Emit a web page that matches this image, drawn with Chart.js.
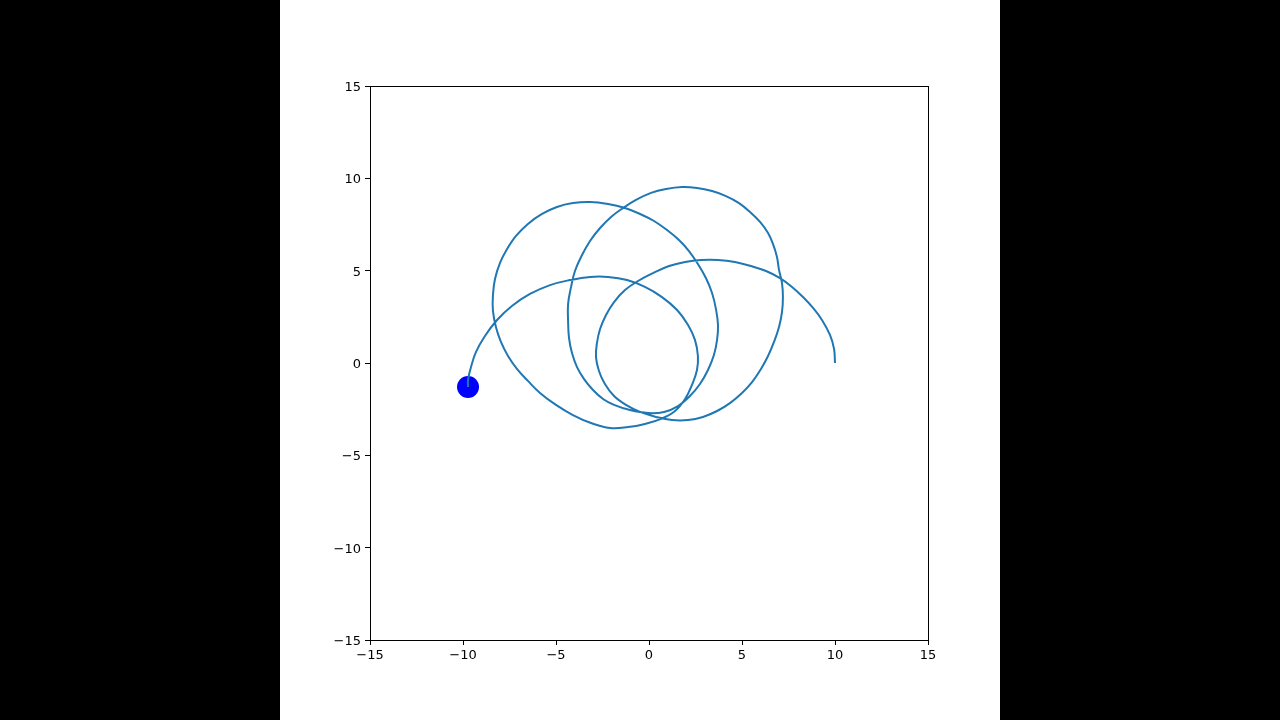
<!DOCTYPE html>
<html>
<head>
<meta charset="utf-8">
<script src="https://cdn.jsdelivr.net/npm/chart.js@4.4.1/dist/chart.umd.min.js"></script>
<style>
  html, body { margin: 0; padding: 0; background: #000; width: 1280px; height: 720px; overflow: hidden; }
  #panel { position: absolute; left: 280px; top: 0; width: 720px; height: 720px; background: #fff; }
  #c { position: absolute; left: 0; top: 0; }
</style>
</head>
<body>
<div id="panel"><canvas id="c" width="720" height="720"></canvas></div>
<script>
// Trajectory (data units), in drawing order
const pathX = [
  10.00, 9.95, 9.73, 9.30, 8.82, 8.28, 7.69, 7.04, 6.29, 5.48, 4.62, 3.71, 2.80, 1.94, 1.08, 0.22, -0.59, -1.29, -1.88, -2.31, -2.63, -2.80, -2.85, -2.69, -2.37, -1.88, -1.24, -0.48, 0.38, 1.24,
  2.10, 2.90, 3.66, 4.35, 5.00, 5.54, 6.02, 6.40, 6.72, 6.99, 7.15, 7.20, 7.15, 6.99, 6.88, 6.67, 6.40, 5.97, 5.43, 4.84, 4.14, 3.39, 2.58, 1.77, 0.91, 0.11, -0.70, -1.40,
  -2.04, -2.63, -3.17, -3.60, -3.98, -4.19, -4.35, -4.35, -4.30, -4.14, -3.87, -3.49, -3.01, -2.47, -1.88, -1.02, -0.05, 0.81, 1.56,
  2.20, 2.74, 3.17, 3.49, 3.66, 3.71,
  3.60, 3.39, 3.06, 2.63, 2.15, 1.61, 0.97, 0.27, -0.48, -1.29, -2.20,
  -3.17, -4.09, -4.95, -5.75, -6.51, -7.15, -7.63, -8.01, -8.28, -8.39, -8.39, -8.23, -7.96, -7.58, -7.10, -6.51, -5.86, -5.00, -4.09, -3.12, -2.10, -1.13,
  -0.22, 0.65, 1.40, 1.94, 2.31, 2.58, 2.63, 2.47, 2.10, 1.51, 0.70, -0.22, -1.18, -2.20, -3.17, -4.25, -5.32, -6.40, -7.37, -8.17, -8.82, -9.30, -9.57, -9.73, -9.73];
const pathY = [
  0.00, 0.76, 1.52, 2.33, 2.98, 3.57, 4.12, 4.60, 4.98, 5.25, 5.47, 5.58, 5.58, 5.47, 5.25, 4.87, 4.44, 3.95, 3.30, 2.60, 1.84, 1.08, 0.32, -0.43, -1.14, -1.79, -2.27, -2.65, -2.92, -3.09,
  -3.09, -2.92, -2.60, -2.17, -1.62, -1.03, -0.32, 0.38, 1.14, 1.95, 2.76, 3.57, 4.33, 5.04, 5.74, 6.44, 7.04, 7.64, 8.18, 8.66, 9.04, 9.31, 9.48, 9.53, 9.42, 9.21, 8.83, 8.39,
  7.91, 7.31, 6.61, 5.85, 4.98, 4.12, 3.19, 2.27, 1.35, 0.54, -0.22, -0.87, -1.46, -1.95, -2.27, -2.55, -2.71, -2.65, -2.33,
  -1.79, -1.14, -0.38, 0.43, 1.25, 2.06,
  2.92, 3.79, 4.60, 5.36, 6.06, 6.66, 7.20, 7.69, 8.07, 8.39, 8.61,
  8.72, 8.66, 8.45, 8.07, 7.53, 6.88, 6.17, 5.42, 4.55, 3.68, 2.82, 1.95, 1.14, 0.38, -0.32, -0.97, -1.62, -2.27, -2.82, -3.25, -3.52, -3.47,
  -3.30, -3.03, -2.60, -1.95, -1.19, -0.38, 0.38, 1.25, 2.06, 2.87, 3.57, 4.12, 4.49, 4.66, 4.66, 4.49, 4.22, 3.74, 3.09, 2.33, 1.46, 0.60, -0.22, -0.92, -1.30];
const xTicks = [-15, -10, -5, 0, 5, 10, 15];
const yTicks = [-15, -10, -5, 0, 5, 10, 15];
const axisMin = -15, axisMax = 15;

const pathData = pathX.map((x, i) => ({ x: x, y: pathY[i] }));
const endPoint = [{ x: pathX[pathX.length - 1], y: pathY[pathY.length - 1] }];

const fmt = v => String(v).replace('-', '\u2212');

const framePlugin = {
  id: 'frame',
  afterDraw(chart) {
    const a = chart.chartArea, ctx = chart.ctx;
    ctx.save();
    ctx.strokeStyle = '#000';
    ctx.lineWidth = 1;
    ctx.strokeRect(Math.round(a.left) + 0.5, Math.round(a.top) + 0.5, Math.round(a.right - a.left), Math.round(a.bottom - a.top));
    ctx.restore();
  }
};

const tickFont = { family: 'DejaVu Sans', size: 13 };

new Chart(document.getElementById('c'), {
  type: 'scatter',
  data: {
    datasets: [
      {
        data: pathData,
        showLine: true,
        borderColor: '#1f77b4',
        borderWidth: 2,
        pointRadius: 0,
        tension: 0.4,
        fill: false,
        order: 0
      },
      {
        data: endPoint,
        pointRadius: 11,
        pointBackgroundColor: '#0000ff',
        pointBorderColor: '#0000ff',
        pointBorderWidth: 0,
        order: 1
      }
    ]
  },
  options: {
    responsive: false,
    animation: false,
    layout: { padding: { left: 0, top: 86, right: 72, bottom: 0 } },
    plugins: { legend: { display: false }, tooltip: { enabled: false } },
    scales: {
      x: {
        type: 'linear',
        min: axisMin, max: axisMax,
        afterBuildTicks: s => { s.ticks = xTicks.map(v => ({ value: v })); },
        afterFit: s => { s.height = 80; },
        grid: { display: true, drawOnChartArea: false, drawTicks: true, tickLength: 5, color: '#000', lineWidth: 1 },
        border: { display: false },
        ticks: { color: '#000', font: tickFont, padding: 3, maxRotation: 0, callback: v => fmt(v) }
      },
      y: {
        type: 'linear',
        min: axisMin, max: axisMax,
        afterBuildTicks: s => { s.ticks = yTicks.map(v => ({ value: v })); },
        afterFit: s => { s.width = 90; },
        grid: { display: true, drawOnChartArea: false, drawTicks: true, tickLength: 5, color: '#000', lineWidth: 1 },
        border: { display: false },
        ticks: { color: '#000', font: tickFont, padding: 4, labelOffset: 1.5, callback: v => fmt(v) }
      }
    }
  },
  plugins: [framePlugin]
});
</script>
</body>
</html>
